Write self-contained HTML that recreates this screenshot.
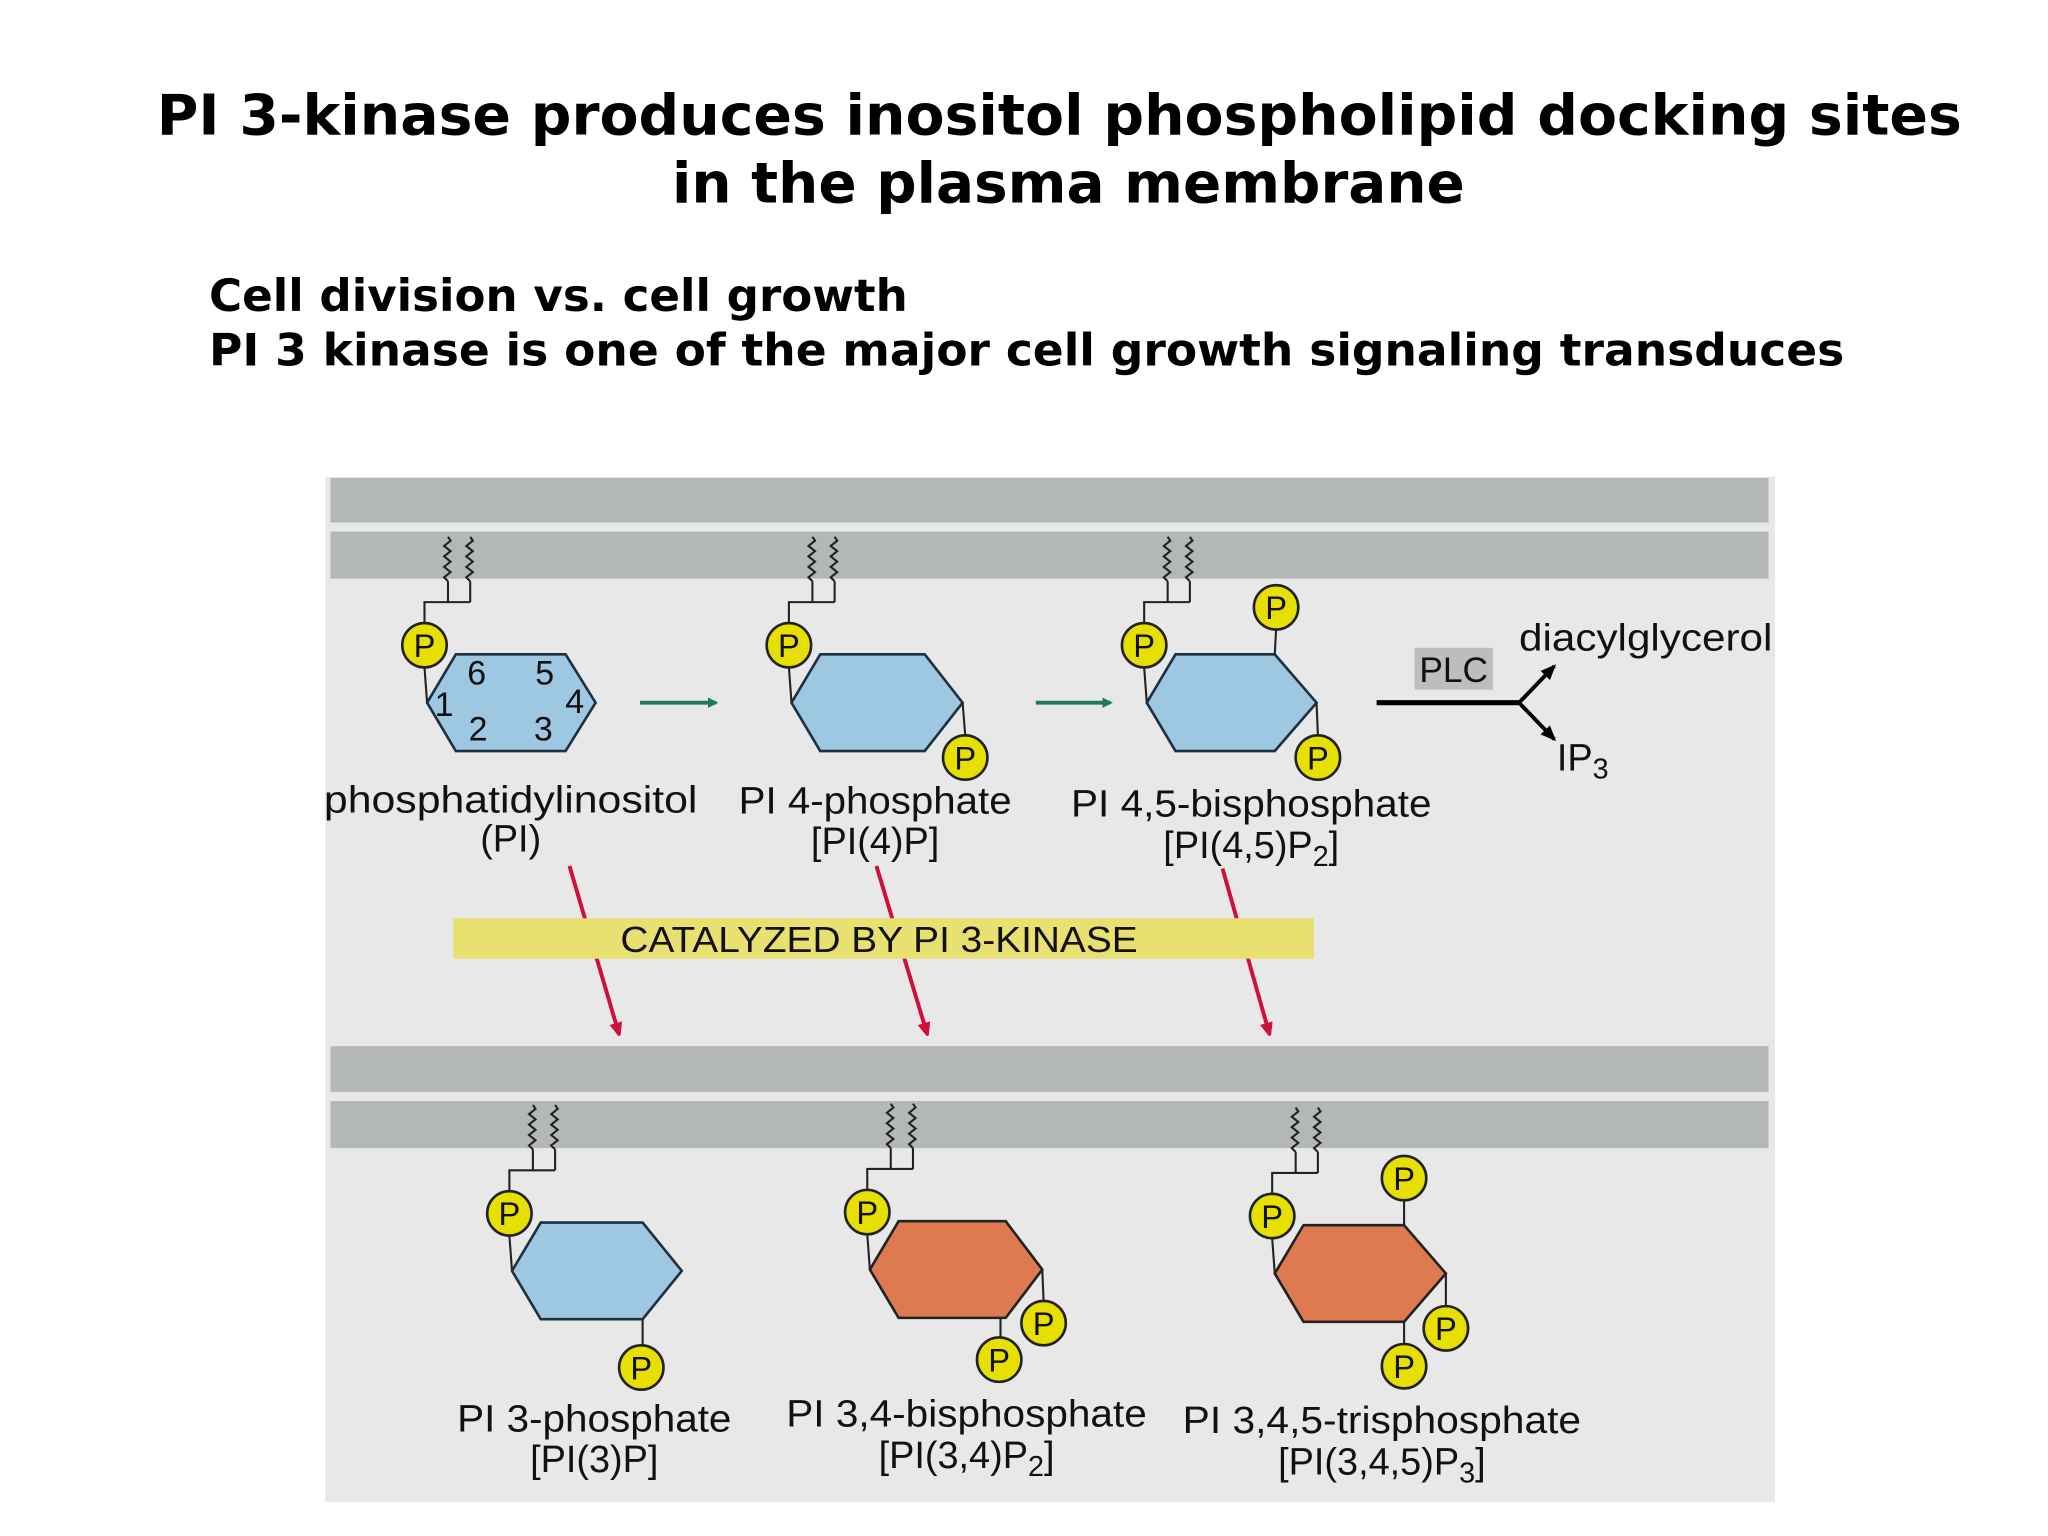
<!DOCTYPE html>
<html><head><meta charset="utf-8"><style>
html,body{margin:0;padding:0;background:#fff}
svg{display:block}
.t{font-family:"DejaVu Sans","Liberation Sans",sans-serif;font-weight:bold;fill:#000}
.l{font-family:"Liberation Sans",sans-serif;fill:#111}
</style></head><body>
<svg width="2048" height="1536" viewBox="0 0 1568 1176" xmlns="http://www.w3.org/2000/svg">
<defs>
<marker id="ga" markerWidth="8" markerHeight="8" refX="6" refY="4" orient="auto" markerUnits="userSpaceOnUse"><path d="M0,0 L8,4 L0,8 Z" fill="#1a7a5a"/></marker>
<marker id="ra" markerWidth="10" markerHeight="14" refX="9" refY="5" orient="auto" markerUnits="userSpaceOnUse"><path d="M0,0 L12,5 L0,10 Z" fill="#d0103a"/></marker>
<marker id="ka" markerWidth="12" markerHeight="12" refX="10" refY="5" orient="auto" markerUnits="userSpaceOnUse"><path d="M0,0 L12,5 L0,10 Z" fill="#000"/></marker>
<g id="tail" fill="none" stroke="#222" stroke-width="1.6">
<path d="M-2,-61 L-2,-77 L33,-77 M16,-77 L16,-93 M33,-77 L33,-93"/>
<path d="M16,-93 l-3,-3 l5,-4 l-5,-4 l5,-4 l-5,-4 l5,-4 l-5,-4 l5,-4 l-2,-3"/>
<path d="M33,-93 l-3,-3 l5,-4 l-5,-4 l5,-4 l-5,-4 l5,-4 l-5,-4 l5,-4 l-2,-3"/>
<line x1="0" y1="0" x2="-2" y2="-27"/>
</g>
<g id="p"><circle r="17" fill="#e6df00" stroke="#222" stroke-width="2"/><text y="9" text-anchor="middle" class="l" font-size="25">P</text></g>
</defs>
<text class="t" x="811" y="103" font-size="43" text-anchor="middle" textLength="1382" lengthAdjust="spacingAndGlyphs">PI 3-kinase produces inositol phospholipid docking sites</text>
<text class="t" x="818" y="155" font-size="43" text-anchor="middle" textLength="607" lengthAdjust="spacingAndGlyphs">in the plasma membrane</text>
<text class="t" x="160" y="238" font-size="34" textLength="535" lengthAdjust="spacingAndGlyphs">Cell division vs. cell growth</text>
<text class="t" x="160" y="280" font-size="34" textLength="1252" lengthAdjust="spacingAndGlyphs">PI 3 kinase is one of the major cell growth signaling transduces</text>

<rect x="249" y="365" width="1110" height="785" fill="#e8e8e8"/>
<rect x="253" y="366" width="1101" height="34" fill="#b3b8b4"/>
<rect x="253" y="407" width="1101" height="36" fill="#b3b8b4"/>
<rect x="253" y="801" width="1101" height="35" fill="#b3b8b4"/>
<rect x="253" y="843" width="1101" height="36" fill="#b3b8b4"/>

<!-- top row -->
<g transform="translate(327,538)">
<use href="#tail"/>
<polygon points="0,0 22,-37 106,-37 129,0 106,37 22,37" fill="#9ec7e2" stroke="#1f3040" stroke-width="2"/>
<use href="#p" x="-2" y="-44"/>
<g class="l" font-size="26" text-anchor="middle">
<text x="38" y="-14">6</text><text x="90" y="-14">5</text><text x="13" y="10">1</text><text x="113" y="8">4</text><text x="39" y="29">2</text><text x="89" y="29">3</text></g>
</g>
<g transform="translate(606,538)">
<use href="#tail"/>
<polygon points="0,0 22,-37 102,-37 131,0 102,37 22,37" fill="#9ec7e2" stroke="#1f3040" stroke-width="2"/>
<line x1="131" y1="0" x2="133" y2="25" stroke="#222" stroke-width="1.6"/>
<use href="#p" x="-2" y="-44"/><use href="#p" x="133" y="42"/>
</g>
<g transform="translate(878,538)">
<use href="#tail"/>
<polygon points="0,0 22,-37 98,-37 130,0 98,37 22,37" fill="#9ec7e2" stroke="#1f3040" stroke-width="2"/>
<line x1="130" y1="0" x2="131" y2="25" stroke="#222" stroke-width="1.6"/>
<line x1="98" y1="-37" x2="99" y2="-56" stroke="#222" stroke-width="1.6"/>
<use href="#p" x="-2" y="-44"/><use href="#p" x="131" y="42"/><use href="#p" x="99" y="-73"/>
</g>
<line x1="490" y1="538" x2="548" y2="538" stroke="#1a7a5a" stroke-width="3" marker-end="url(#ga)"/>
<line x1="793" y1="538" x2="850" y2="538" stroke="#1a7a5a" stroke-width="3" marker-end="url(#ga)"/>

<g class="l" text-anchor="middle" font-size="29">
<text x="391" y="622" textLength="286" lengthAdjust="spacingAndGlyphs">phosphatidylinositol</text>
<text x="391" y="652">(PI)</text>
<text x="670" y="623" textLength="209" lengthAdjust="spacingAndGlyphs">PI 4-phosphate</text>
<text x="670" y="654">[PI(4)P]</text>
<text x="958" y="625" textLength="276" lengthAdjust="spacingAndGlyphs">PI 4,5-bisphosphate</text>
<text x="958" y="657">[PI(4,5)P<tspan font-size="22" dy="6">2</tspan><tspan dy="-6">]</tspan></text>
</g>

<rect x="1083" y="496" width="60" height="32" fill="#bdbdbd"/>
<text class="l" x="1113" y="522" font-size="27" text-anchor="middle">PLC</text>
<path d="M1054,538 L1163,538" stroke="#000" stroke-width="4"/>
<line x1="1163" y1="538" x2="1190" y2="510" stroke="#000" stroke-width="3" marker-end="url(#ka)"/>
<line x1="1163" y1="538" x2="1190" y2="566" stroke="#000" stroke-width="3" marker-end="url(#ka)"/>
<text class="l" x="1163" y="498" font-size="29" textLength="194" lengthAdjust="spacingAndGlyphs">diacylglycerol</text>
<text class="l" x="1192" y="590" font-size="29">IP<tspan font-size="22" dy="6">3</tspan></text>

<!-- red arrows -->
<line x1="436" y1="663" x2="474" y2="792" stroke="#d0103a" stroke-width="3" marker-end="url(#ra)"/>
<line x1="671" y1="663" x2="710" y2="792" stroke="#d0103a" stroke-width="3" marker-end="url(#ra)"/>
<line x1="936" y1="665" x2="972" y2="792" stroke="#d0103a" stroke-width="3" marker-end="url(#ra)"/>
<rect x="347" y="703" width="659" height="31" fill="#e8e070"/>
<text class="l" x="673" y="729" font-size="28" text-anchor="middle" textLength="396" lengthAdjust="spacingAndGlyphs">CATALYZED BY PI 3-KINASE</text>

<!-- bottom row -->
<g transform="translate(392,973)">
<use href="#tail"/>
<polygon points="0,0 22,-37 100,-37 130,0 100,37 22,37" fill="#9ec7e2" stroke="#1f3040" stroke-width="2"/>
<line x1="100" y1="37" x2="100" y2="58" stroke="#222" stroke-width="1.6"/>
<use href="#p" x="-2" y="-44"/><use href="#p" x="99" y="74"/>
</g>
<g transform="translate(666,972)">
<use href="#tail"/>
<polygon points="0,0 22,-37 104,-37 132,0 104,37 22,37" fill="#dd7a50" stroke="#222" stroke-width="2"/>
<line x1="132" y1="0" x2="133" y2="24" stroke="#222" stroke-width="1.6"/>
<line x1="100" y1="37" x2="100" y2="52" stroke="#222" stroke-width="1.6"/>
<use href="#p" x="-2" y="-44"/><use href="#p" x="133" y="41"/><use href="#p" x="99" y="69"/>
</g>
<g transform="translate(976,975)">
<use href="#tail"/>
<polygon points="0,0 22,-37 99,-37 131,0 99,37 22,37" fill="#dd7a50" stroke="#222" stroke-width="2"/>
<line x1="131" y1="0" x2="131" y2="25" stroke="#222" stroke-width="1.6"/>
<line x1="99" y1="37" x2="99" y2="54" stroke="#222" stroke-width="1.6"/>
<line x1="99" y1="-37" x2="99" y2="-56" stroke="#222" stroke-width="1.6"/>
<use href="#p" x="-2" y="-44"/><use href="#p" x="131" y="42"/><use href="#p" x="99" y="71"/><use href="#p" x="99" y="-73"/>
</g>

<g class="l" text-anchor="middle" font-size="29">
<text x="455" y="1096" textLength="210" lengthAdjust="spacingAndGlyphs">PI 3-phosphate</text>
<text x="455" y="1127">[PI(3)P]</text>
<text x="740" y="1092" textLength="276" lengthAdjust="spacingAndGlyphs">PI 3,4-bisphosphate</text>
<text x="740" y="1124">[PI(3,4)P<tspan font-size="22" dy="6">2</tspan><tspan dy="-6">]</tspan></text>
<text x="1058" y="1097" textLength="305" lengthAdjust="spacingAndGlyphs">PI 3,4,5-trisphosphate</text>
<text x="1058" y="1129">[PI(3,4,5)P<tspan font-size="22" dy="6">3</tspan><tspan dy="-6">]</tspan></text>
</g>
</svg>
</body></html>
